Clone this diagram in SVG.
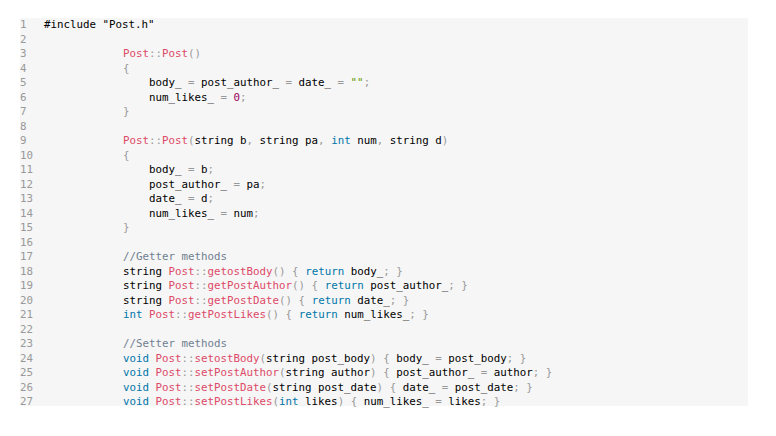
<svg xmlns="http://www.w3.org/2000/svg" width="776" height="436" viewBox="0 0 776 436">
<style>
text{font-family:"DejaVu Sans Mono","Liberation Mono",monospace;font-size:10.8px;white-space:pre;fill:#000}
.n{fill:#999}.p{fill:#999}.f{fill:#dd4a68}.k{fill:#07a}.m{fill:#905}.s{fill:#690}.c{fill:#708090}
</style>
<rect x="20" y="18" width="728" height="388" fill="#f6f6f6"/>
<g id="lines" xml:space="preserve">
<text x="20" y="28"><tspan class="n">1</tspan><tspan x="44">#include "Post.h"</tspan></text>
<text x="20" y="42.5" class="n">2</text>
<text x="20" y="57"><tspan class="n">3</tspan><tspan x="123" class="f">Post</tspan><tspan class="p">::</tspan><tspan class="f">Post</tspan><tspan class="p">()</tspan></text>
<text x="20" y="71.5"><tspan class="n">4</tspan><tspan x="123" class="p">{</tspan></text>
<text x="20" y="86"><tspan class="n">5</tspan><tspan x="149">body_ </tspan><tspan class="p">=</tspan><tspan> post_author_ </tspan><tspan class="p">=</tspan><tspan> date_ </tspan><tspan class="p">=</tspan><tspan> </tspan><tspan class="s">""</tspan><tspan class="p">;</tspan></text>
<text x="20" y="100.5"><tspan class="n">6</tspan><tspan x="149">num_likes_ </tspan><tspan class="p">=</tspan><tspan> </tspan><tspan class="m">0</tspan><tspan class="p">;</tspan></text>
<text x="20" y="115"><tspan class="n">7</tspan><tspan x="123" class="p">}</tspan></text>
<text x="20" y="129.5" class="n">8</text>
<text x="20" y="144"><tspan class="n">9</tspan><tspan x="123" class="f">Post</tspan><tspan class="p">::</tspan><tspan class="f">Post</tspan><tspan class="p">(</tspan><tspan>string b</tspan><tspan class="p">,</tspan><tspan> string pa</tspan><tspan class="p">,</tspan><tspan> </tspan><tspan class="k">int</tspan><tspan> num</tspan><tspan class="p">,</tspan><tspan> string d</tspan><tspan class="p">)</tspan></text>
<text x="20" y="158.5"><tspan class="n">10</tspan><tspan x="123" class="p">{</tspan></text>
<text x="20" y="173"><tspan class="n">11</tspan><tspan x="149">body_ </tspan><tspan class="p">=</tspan><tspan> b</tspan><tspan class="p">;</tspan></text>
<text x="20" y="187.5"><tspan class="n">12</tspan><tspan x="149">post_author_ </tspan><tspan class="p">=</tspan><tspan> pa</tspan><tspan class="p">;</tspan></text>
<text x="20" y="202"><tspan class="n">13</tspan><tspan x="149">date_ </tspan><tspan class="p">=</tspan><tspan> d</tspan><tspan class="p">;</tspan></text>
<text x="20" y="216.5"><tspan class="n">14</tspan><tspan x="149">num_likes_ </tspan><tspan class="p">=</tspan><tspan> num</tspan><tspan class="p">;</tspan></text>
<text x="20" y="231"><tspan class="n">15</tspan><tspan x="123" class="p">}</tspan></text>
<text x="20" y="245.5" class="n">16</text>
<text x="20" y="260"><tspan class="n">17</tspan><tspan x="123" class="c">//Getter methods</tspan></text>
<text x="20" y="274.5"><tspan class="n">18</tspan><tspan x="123">string </tspan><tspan class="f">Post</tspan><tspan class="p">::</tspan><tspan class="f">getostBody</tspan><tspan class="p">()</tspan><tspan> </tspan><tspan class="p">{</tspan><tspan> </tspan><tspan class="k">return</tspan><tspan> body_</tspan><tspan class="p">;</tspan><tspan> </tspan><tspan class="p">}</tspan></text>
<text x="20" y="289"><tspan class="n">19</tspan><tspan x="123">string </tspan><tspan class="f">Post</tspan><tspan class="p">::</tspan><tspan class="f">getPostAuthor</tspan><tspan class="p">()</tspan><tspan> </tspan><tspan class="p">{</tspan><tspan> </tspan><tspan class="k">return</tspan><tspan> post_author_</tspan><tspan class="p">;</tspan><tspan> </tspan><tspan class="p">}</tspan></text>
<text x="20" y="303.5"><tspan class="n">20</tspan><tspan x="123">string </tspan><tspan class="f">Post</tspan><tspan class="p">::</tspan><tspan class="f">getPostDate</tspan><tspan class="p">()</tspan><tspan> </tspan><tspan class="p">{</tspan><tspan> </tspan><tspan class="k">return</tspan><tspan> date_</tspan><tspan class="p">;</tspan><tspan> </tspan><tspan class="p">}</tspan></text>
<text x="20" y="318"><tspan class="n">21</tspan><tspan x="123" class="k">int</tspan><tspan> </tspan><tspan class="f">Post</tspan><tspan class="p">::</tspan><tspan class="f">getPostLikes</tspan><tspan class="p">()</tspan><tspan> </tspan><tspan class="p">{</tspan><tspan> </tspan><tspan class="k">return</tspan><tspan> num_likes_</tspan><tspan class="p">;</tspan><tspan> </tspan><tspan class="p">}</tspan></text>
<text x="20" y="332.5" class="n">22</text>
<text x="20" y="347"><tspan class="n">23</tspan><tspan x="123" class="c">//Setter methods</tspan></text>
<text x="20" y="361.5"><tspan class="n">24</tspan><tspan x="123" class="k">void</tspan><tspan> </tspan><tspan class="f">Post</tspan><tspan class="p">::</tspan><tspan class="f">setostBody</tspan><tspan class="p">(</tspan><tspan>string post_body</tspan><tspan class="p">)</tspan><tspan> </tspan><tspan class="p">{</tspan><tspan> body_ </tspan><tspan class="p">=</tspan><tspan> post_body</tspan><tspan class="p">;</tspan><tspan> </tspan><tspan class="p">}</tspan></text>
<text x="20" y="376"><tspan class="n">25</tspan><tspan x="123" class="k">void</tspan><tspan> </tspan><tspan class="f">Post</tspan><tspan class="p">::</tspan><tspan class="f">setPostAuthor</tspan><tspan class="p">(</tspan><tspan>string author</tspan><tspan class="p">)</tspan><tspan> </tspan><tspan class="p">{</tspan><tspan> post_author_ </tspan><tspan class="p">=</tspan><tspan> author</tspan><tspan class="p">;</tspan><tspan> </tspan><tspan class="p">}</tspan></text>
<text x="20" y="390.5"><tspan class="n">26</tspan><tspan x="123" class="k">void</tspan><tspan> </tspan><tspan class="f">Post</tspan><tspan class="p">::</tspan><tspan class="f">setPostDate</tspan><tspan class="p">(</tspan><tspan>string post_date</tspan><tspan class="p">)</tspan><tspan> </tspan><tspan class="p">{</tspan><tspan> date_ </tspan><tspan class="p">=</tspan><tspan> post_date</tspan><tspan class="p">;</tspan><tspan> </tspan><tspan class="p">}</tspan></text>
<text x="20" y="405"><tspan class="n">27</tspan><tspan x="123" class="k">void</tspan><tspan> </tspan><tspan class="f">Post</tspan><tspan class="p">::</tspan><tspan class="f">setPostLikes</tspan><tspan class="p">(</tspan><tspan class="k">int</tspan><tspan> likes</tspan><tspan class="p">)</tspan><tspan> </tspan><tspan class="p">{</tspan><tspan> num_likes_ </tspan><tspan class="p">=</tspan><tspan> likes</tspan><tspan class="p">;</tspan><tspan> </tspan><tspan class="p">}</tspan></text>
</g>
</svg>
